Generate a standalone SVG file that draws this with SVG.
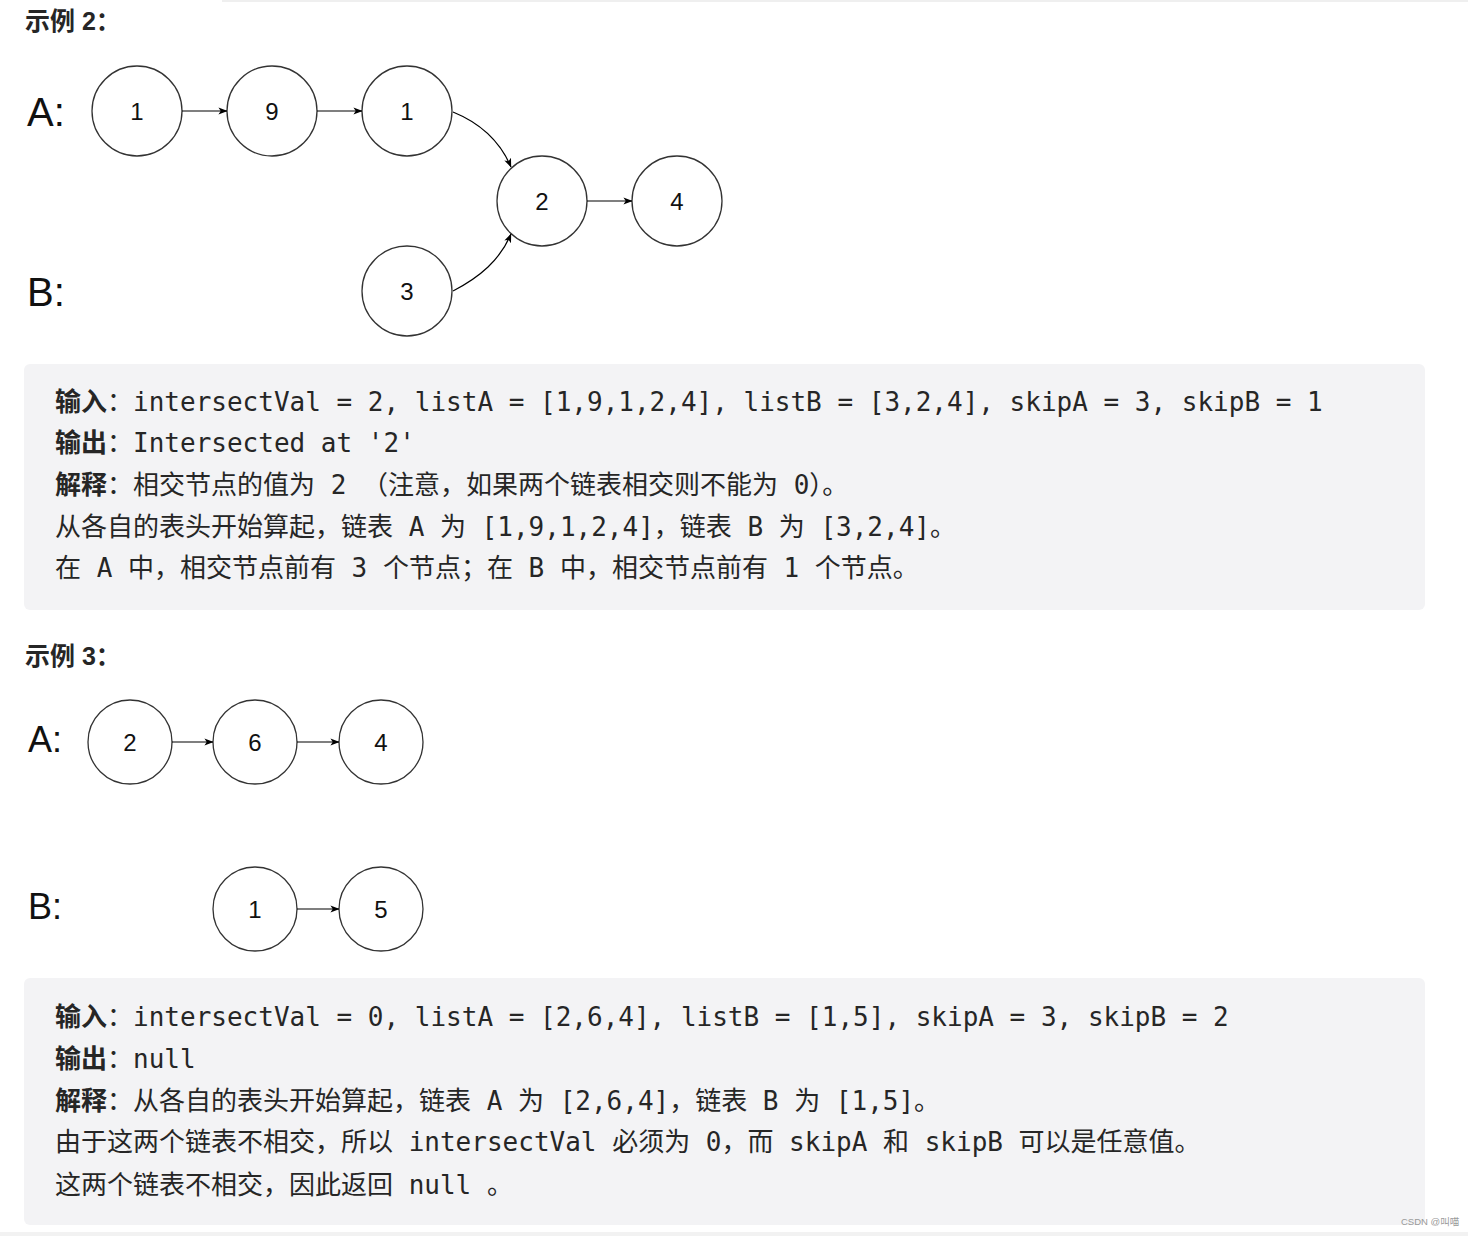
<svg xmlns="http://www.w3.org/2000/svg" width="1468" height="1236" viewBox="0 0 1468 1236">
<defs>
<marker id="arr" viewBox="0 0 10 10" refX="9.5" refY="5" markerWidth="9" markerHeight="9" markerUnits="userSpaceOnUse" orient="auto">
<path d="M0,1 L10,5 L0,9 L2.5,5 z" fill="#000"/>
</marker>
<style>
.node circle{fill:#fff;stroke:#333;stroke-width:1.3}
.node text{font-family:"Liberation Sans",Arial,sans-serif;font-size:24px;fill:#111;text-anchor:middle}
.conn path,.conn line{fill:none;stroke:#000;stroke-width:1.2;marker-end:url(#arr)}
.lbl{font-family:"Liberation Sans",Arial,sans-serif;fill:#111}
.h{font-family:"Liberation Sans","Noto Sans CJK SC",sans-serif;font-size:25px;font-weight:bold;fill:#262626}
.box{fill:#f3f3f5}
.code{font-family:"DejaVu Sans Mono","Noto Sans CJK SC",monospace;font-size:26px;fill:#262626}
.b{font-weight:bold;font-family:"Noto Sans CJK SC",sans-serif}
.cjk{font-family:"Noto Sans CJK SC",sans-serif}
</style>
</defs>
<rect width="1468" height="1236" fill="#fff"/>
<rect x="222" y="0" width="1246" height="2" fill="#efefef"/>
<rect x="0" y="1232" width="1468" height="4" fill="#f2f2f2"/>

<text class="h" x="25" y="30">示例 2：</text>
<text class="lbl" x="27" y="126" font-size="40">A:</text>
<text class="lbl" x="27" y="306" font-size="40">B:</text>

<g id="e2-a1" class="node"><circle cx="137" cy="111" r="45"/><text x="137" y="120">1</text></g>
<g id="e2-a9" class="node"><circle cx="272" cy="111" r="45"/><text x="272" y="120">9</text></g>
<g id="e2-a1b" class="node"><circle cx="407" cy="111" r="45"/><text x="407" y="120">1</text></g>
<g id="e2-c2" class="node"><circle cx="542" cy="201" r="45"/><text x="542" y="210">2</text></g>
<g id="e2-c4" class="node"><circle cx="677" cy="201" r="45"/><text x="677" y="210">4</text></g>
<g id="e2-b3" class="node"><circle cx="407" cy="291" r="45"/><text x="407" y="300">3</text></g>

<g id="e2-connectors" class="conn">
<line x1="182" y1="111" x2="227" y2="111"/>
<line x1="317" y1="111" x2="362" y2="111"/>
<line x1="587" y1="201" x2="632" y2="201"/>
<path d="M453,112 C480,123 500,141 511,167"/>
<path d="M453,291 C480,277 500,260 511,234"/>
</g>

<rect class="box" x="24" y="364" width="1401" height="246" rx="6"/>
<text class="code" x="55" y="411"><tspan class="b">输入</tspan><tspan class="cjk">：</tspan>intersectVal = 2, listA = [1,9,1,2,4], listB = [3,2,4], skipA = 3, skipB = 1</text>
<text class="code" x="55" y="452"><tspan class="b">输出</tspan><tspan class="cjk">：</tspan>Intersected at '2'</text>
<text class="code" x="55" y="494"><tspan class="b">解释</tspan><tspan class="cjk">：</tspan>相交节点的值为 2 （注意，如果两个链表相交则不能为 0）。</text>
<text class="code" x="55" y="536">从各自的表头开始算起，链表 A 为 [1,9,1,2,4]，链表 B 为 [3,2,4]。</text>
<text class="code" x="55" y="577">在 A 中，相交节点前有 3 个节点；在 B 中，相交节点前有 1 个节点。</text>

<text class="h" x="25" y="665">示例 3：</text>
<text class="lbl" x="28" y="752" font-size="36">A:</text>
<text class="lbl" x="28" y="919" font-size="36">B:</text>

<g id="e3-a2" class="node"><circle cx="130" cy="742" r="42"/><text x="130" y="751">2</text></g>
<g id="e3-a6" class="node"><circle cx="255" cy="742" r="42"/><text x="255" y="751">6</text></g>
<g id="e3-a4" class="node"><circle cx="381" cy="742" r="42"/><text x="381" y="751">4</text></g>
<g id="e3-b1" class="node"><circle cx="255" cy="909" r="42"/><text x="255" y="918">1</text></g>
<g id="e3-b5" class="node"><circle cx="381" cy="909" r="42"/><text x="381" y="918">5</text></g>

<g id="e3-connectors" class="conn">
<line x1="172" y1="742" x2="213" y2="742"/>
<line x1="297" y1="742" x2="339" y2="742"/>
<line x1="297" y1="909" x2="339" y2="909"/>
</g>

<rect class="box" x="24" y="978" width="1401" height="247" rx="6"/>
<text class="code" x="55" y="1026"><tspan class="b">输入</tspan><tspan class="cjk">：</tspan>intersectVal = 0, listA = [2,6,4], listB = [1,5], skipA = 3, skipB = 2</text>
<text class="code" x="55" y="1068"><tspan class="b">输出</tspan><tspan class="cjk">：</tspan>null</text>
<text class="code" x="55" y="1110"><tspan class="b">解释</tspan><tspan class="cjk">：</tspan>从各自的表头开始算起，链表 A 为 [2,6,4]，链表 B 为 [1,5]。</text>
<text class="code" x="55" y="1151">由于这两个链表不相交，所以 intersectVal 必须为 0，而 skipA 和 skipB 可以是任意值。</text>
<text class="code" x="55" y="1194">这两个链表不相交，因此返回 null 。</text>

<text x="1401" y="1225" font-family="Liberation Sans,'Noto Sans CJK SC',sans-serif" font-size="9.5" fill="#999">CSDN @叫喵</text>
</svg>
